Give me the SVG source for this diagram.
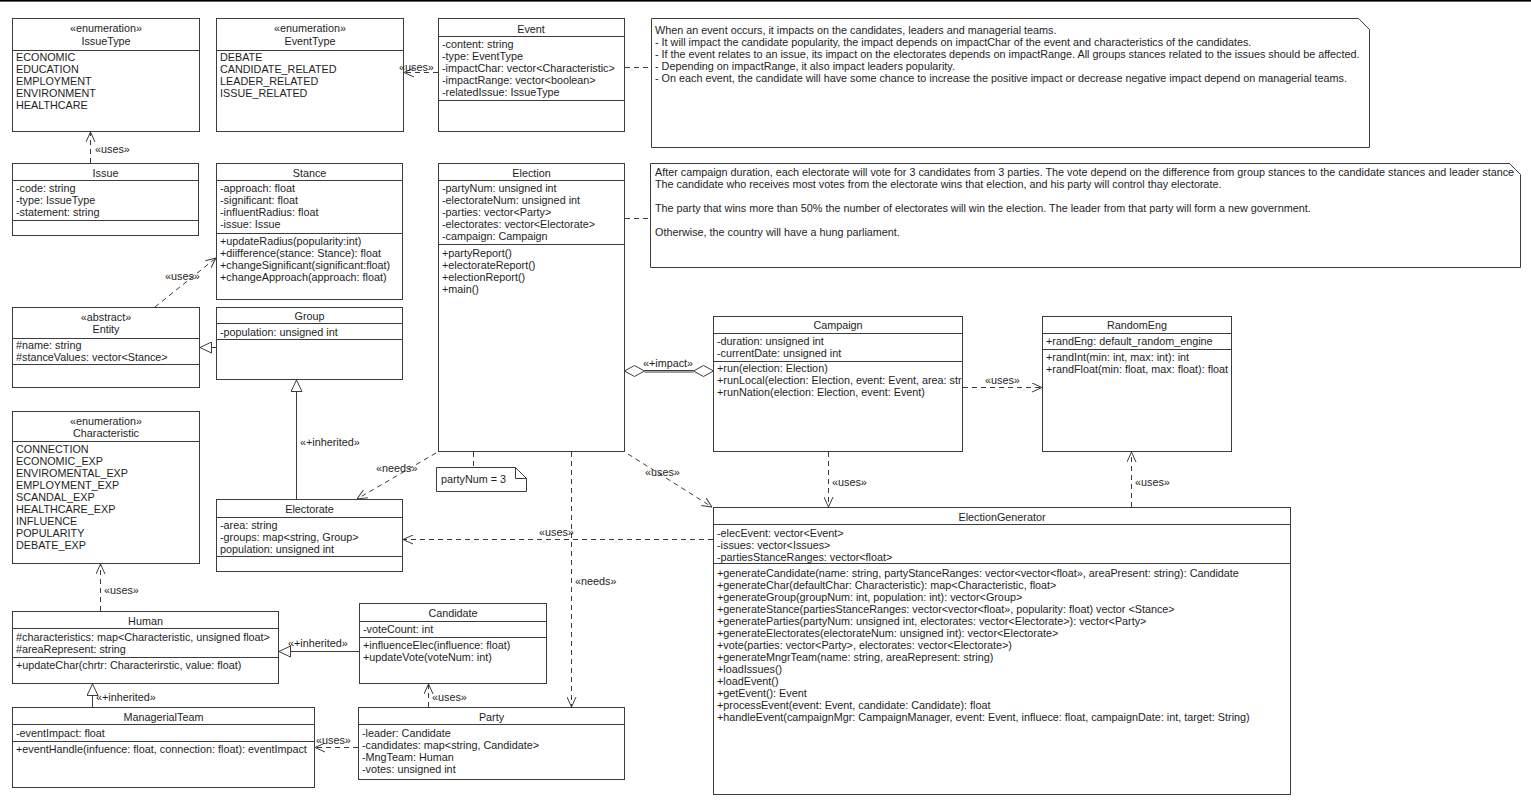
<svg xmlns="http://www.w3.org/2000/svg" width="1531" height="806" viewBox="0 0 1531 806">
<style>
.b{fill:#fff;stroke:#3c3c3c;stroke-width:1}
.s{stroke:#3c3c3c;stroke-width:1;fill:none}
.d{stroke:#3c3c3c;stroke-width:1;fill:none;stroke-dasharray:5,4}
text{font-family:"Liberation Sans",Arial,sans-serif;font-size:10.8px;fill:#1e1e1e}
.c{text-anchor:middle}
</style>
<defs>
<marker id="open" viewBox="0 0 10 10" refX="10" refY="5" markerWidth="10" markerHeight="10" markerUnits="userSpaceOnUse" orient="auto"><path d="M0,0.5 L10,5 L0,9.5" fill="none" stroke="#3c3c3c" stroke-width="1"/></marker>
<marker id="tri" viewBox="0 0 12 12" refX="12" refY="6" markerWidth="12" markerHeight="12" markerUnits="userSpaceOnUse" orient="auto"><path d="M0.5,0.5 L12,6 L0.5,11.5 Z" fill="#fff" stroke="#3c3c3c" stroke-width="1"/></marker>
</defs>
<rect width="1531" height="806" fill="#fff"/>
<rect x="0" y="0" width="1531" height="1.6" fill="#000"/>

<g id="IssueType">
<rect class="b" x="12.5" y="18.5" width="187" height="113"/>
<line class="s" x1="12.5" y1="50.5" x2="199.5" y2="50.5"/>
<text class="c" x="106" y="32">«enumeration»</text>
<text class="c" x="106" y="45">IssueType</text>
<text x="16" y="61">ECONOMIC</text>
<text x="16" y="73">EDUCATION</text>
<text x="16" y="85">EMPLOYMENT</text>
<text x="16" y="97">ENVIRONMENT</text>
<text x="16" y="109">HEALTHCARE</text>
</g>

<g id="EventType">
<rect class="b" x="216.5" y="18.5" width="187" height="113"/>
<line class="s" x1="216.5" y1="50.5" x2="403.5" y2="50.5"/>
<text class="c" x="310" y="32">«enumeration»</text>
<text class="c" x="310" y="45">EventType</text>
<text x="220" y="61">DEBATE</text>
<text x="220" y="73">CANDIDATE_RELATED</text>
<text x="220" y="85">LEADER_RELATED</text>
<text x="220" y="97">ISSUE_RELATED</text>
</g>

<g id="Event">
<rect class="b" x="438.5" y="18.5" width="186" height="113"/>
<line class="s" x1="438.5" y1="36.5" x2="624.5" y2="36.5"/>
<line class="s" x1="438.5" y1="100.5" x2="624.5" y2="100.5"/>
<text class="c" x="531" y="33">Event</text>
<text x="442" y="48">-content: string</text>
<text x="442" y="60">-type: EventType</text>
<text x="442" y="72">-impactChar: vector&lt;Characteristic&gt;</text>
<text x="442" y="84">-impactRange: vector&lt;boolean&gt;</text>
<text x="442" y="96">-relatedIssue: IssueType</text>
</g>

<g id="EventNote">
<polygon class="b" points="651.5,18.5 1358.5,18.5 1369.5,29.5 1369.5,147.5 651.5,147.5"/>
<text x="655" y="34">When an event occurs, it impacts on the candidates, leaders and managerial teams.</text>
<text x="655" y="46">- It will impact the candidate popularity, the impact depends on impactChar of the event and characteristics of the candidates.</text>
<text x="655" y="58">- If the event relates to an issue, its impact on the electorates depends on impactRange. All groups stances related to the issues should be affected.</text>
<text x="655" y="70">- Depending on impactRange, it also impact leaders popularity.</text>
<text x="655" y="82">- On each event, the candidate will have some chance to increase the positive impact or decrease negative impact depend on managerial teams.</text>
</g>

<g id="Issue">
<rect class="b" x="12.5" y="163.5" width="186" height="72"/>
<line class="s" x1="12.5" y1="180.5" x2="198.5" y2="180.5"/>
<line class="s" x1="12.5" y1="220.5" x2="198.5" y2="220.5"/>
<text class="c" x="105.5" y="177">Issue</text>
<text x="16" y="192">-code: string</text>
<text x="16" y="204">-type: IssueType</text>
<text x="16" y="216">-statement: string</text>
</g>

<g id="Stance">
<rect class="b" x="216.5" y="163.5" width="186" height="136"/>
<line class="s" x1="216.5" y1="180.5" x2="402.5" y2="180.5"/>
<line class="s" x1="216.5" y1="233.5" x2="402.5" y2="233.5"/>
<text class="c" x="309.5" y="177">Stance</text>
<text x="220" y="192">-approach: float</text>
<text x="220" y="204">-significant: float</text>
<text x="220" y="216">-influentRadius: float</text>
<text x="220" y="228">-issue: Issue</text>
<text x="220" y="245">+updateRadius(popularity:int)</text>
<text x="220" y="257">+diifference(stance: Stance): float</text>
<text x="220" y="269">+changeSignificant(significant:float)</text>
<text x="220" y="281">+changeApproach(approach: float)</text>
</g>

<g id="Election">
<rect class="b" x="438.5" y="163.5" width="186" height="288"/>
<line class="s" x1="438.5" y1="180.5" x2="624.5" y2="180.5"/>
<line class="s" x1="438.5" y1="244.5" x2="624.5" y2="244.5"/>
<text class="c" x="531.5" y="177">Election</text>
<text x="442" y="192">-partyNum: unsigned int</text>
<text x="442" y="204">-electorateNum: unsigned int</text>
<text x="442" y="216">-parties: vector&lt;Party&gt;</text>
<text x="442" y="228">-electorates: vector&lt;Electorate&gt;</text>
<text x="442" y="240">-campaign: Campaign</text>
<text x="442" y="257">+partyReport()</text>
<text x="442" y="269">+electorateReport()</text>
<text x="442" y="281">+electionReport()</text>
<text x="442" y="293">+main()</text>
</g>

<g id="ElectionNote">
<polygon class="b" points="650.5,163.5 1509.5,163.5 1520.5,174.5 1520.5,267.5 650.5,267.5"/>
<text x="655" y="176">After campaign duration, each electorate will vote for 3 candidates from 3 parties. The vote depend on the difference from group stances to the candidate stances and leader stance</text>
<text x="655" y="188">The candidate who receives most votes from the electorate wins that election, and his party will control thay electorate.</text>
<text x="655" y="212">The party that wins more than 50% the number of electorates will win the election. The leader from that party will form a new government.</text>
<text x="655" y="236">Otherwise, the country will have a hung parliament.</text>
</g>

<g id="Entity">
<rect class="b" x="12.5" y="307.5" width="187" height="80"/>
<line class="s" x1="12.5" y1="338.5" x2="199.5" y2="338.5"/>
<line class="s" x1="12.5" y1="364.5" x2="199.5" y2="364.5"/>
<text class="c" x="106" y="321">«abstract»</text>
<text class="c" x="106" y="333">Entity</text>
<text x="16" y="349">#name: string</text>
<text x="16" y="361">#stanceValues: vector&lt;Stance&gt;</text>
</g>

<g id="Group">
<rect class="b" x="216.5" y="307.5" width="186" height="72"/>
<line class="s" x1="216.5" y1="323.5" x2="402.5" y2="323.5"/>
<line class="s" x1="216.5" y1="339.5" x2="402.5" y2="339.5"/>
<text class="c" x="309.5" y="320">Group</text>
<text x="220" y="336">-population: unsigned int</text>
</g>

<g id="Campaign">
<rect class="b" x="713.5" y="316.5" width="249" height="135"/>
<line class="s" x1="713.5" y1="333.5" x2="962.5" y2="333.5"/>
<line class="s" x1="713.5" y1="361.5" x2="962.5" y2="361.5"/>
<text class="c" x="838" y="329">Campaign</text>
<text x="717" y="345">-duration: unsigned int</text>
<text x="717" y="357">-currentDate: unsigned int</text>
<text x="717" y="372">+run(election: Election)</text>
<text x="717" y="384">+runLocal(election: Election, event: Event, area: str</text>
<text x="717" y="396">+runNation(election: Election, event: Event)</text>
</g>

<g id="RandomEng">
<rect class="b" x="1042.5" y="316.5" width="189" height="135"/>
<line class="s" x1="1042.5" y1="333.5" x2="1231.5" y2="333.5"/>
<line class="s" x1="1042.5" y1="349.5" x2="1231.5" y2="349.5"/>
<text class="c" x="1137" y="329">RandomEng</text>
<text x="1046" y="345">+randEng: default_random_engine</text>
<text x="1046" y="361">+randInt(min: int, max: int): int</text>
<text x="1046" y="373">+randFloat(min: float, max: float): float</text>
</g>

<g id="Characteristic">
<rect class="b" x="12.5" y="411.5" width="187" height="152"/>
<line class="s" x1="12.5" y1="441.5" x2="199.5" y2="441.5"/>
<text class="c" x="106" y="425">«enumeration»</text>
<text class="c" x="106" y="437">Characteristic</text>
<text x="16" y="453">CONNECTION</text>
<text x="16" y="465">ECONOMIC_EXP</text>
<text x="16" y="477">ENVIROMENTAL_EXP</text>
<text x="16" y="489">EMPLOYMENT_EXP</text>
<text x="16" y="501">SCANDAL_EXP</text>
<text x="16" y="513">HEALTHCARE_EXP</text>
<text x="16" y="525">INFLUENCE</text>
<text x="16" y="537">POPULARITY</text>
<text x="16" y="549">DEBATE_EXP</text>
</g>

<g id="Electorate">
<rect class="b" x="216.5" y="499.5" width="186" height="72"/>
<line class="s" x1="216.5" y1="517.5" x2="402.5" y2="517.5"/>
<line class="s" x1="216.5" y1="556.5" x2="402.5" y2="556.5"/>
<text class="c" x="309.5" y="513">Electorate</text>
<text x="220" y="529">-area: string</text>
<text x="220" y="541">-groups: map&lt;string, Group&gt;</text>
<text x="220" y="553">population: unsigned int</text>
</g>

<g id="PartyNumNote">
<polygon class="b" points="436.5,467.5 515.5,467.5 526.5,478.5 526.5,491.5 436.5,491.5"/>
<polyline class="s" points="515.5,467.5 515.5,478.5 526.5,478.5"/>
<text x="441" y="483">partyNum = 3</text>
</g>

<g id="ElectionGenerator">
<rect class="b" x="713.5" y="507.5" width="577" height="287"/>
<line class="s" x1="713.5" y1="524.5" x2="1290.5" y2="524.5"/>
<line class="s" x1="713.5" y1="563.5" x2="1290.5" y2="563.5"/>
<text class="c" x="1002" y="521">ElectionGenerator</text>
<text x="717" y="537">-elecEvent: vector&lt;Event&gt;</text>
<text x="717" y="549">-issues: vector&lt;Issues&gt;</text>
<text x="717" y="561">-partiesStanceRanges: vector&lt;float&gt;</text>
<text x="717" y="577">+generateCandidate(name: string, partyStanceRanges: vector&lt;vector&lt;float», areaPresent: string): Candidate</text>
<text x="717" y="589">+generateChar(defaultChar: Characteristic): map&lt;Characteristic, float&gt;</text>
<text x="717" y="601">+generateGroup(groupNum: int, population: int): vector&lt;Group&gt;</text>
<text x="717" y="613">+generateStance(partiesStanceRanges: vector&lt;vector&lt;float», popularity: float) vector &lt;Stance&gt;</text>
<text x="717" y="625">+generateParties(partyNum: unsigned int, electorates: vector&lt;Electorate&gt;): vector&lt;Party&gt;</text>
<text x="717" y="637">+generateElectorates(electorateNum: unsigned int): vector&lt;Electorate&gt;</text>
<text x="717" y="649">+vote(parties: vector&lt;Party&gt;, electorates: vector&lt;Electorate&gt;)</text>
<text x="717" y="661">+generateMngrTeam(name: string, areaRepresent: string)</text>
<text x="717" y="673">+loadIssues()</text>
<text x="717" y="685">+loadEvent()</text>
<text x="717" y="697">+getEvent(): Event</text>
<text x="717" y="709">+processEvent(event: Event, candidate: Candidate): float</text>
<text x="717" y="721">+handleEvent(campaignMgr: CampaignManager, event: Event, influece: float, campaignDate: int, target: String)</text>
</g>

<g id="Human">
<rect class="b" x="12.5" y="611.5" width="266" height="72"/>
<line class="s" x1="12.5" y1="628.5" x2="278.5" y2="628.5"/>
<line class="s" x1="12.5" y1="657.5" x2="278.5" y2="657.5"/>
<text class="c" x="145.5" y="625">Human</text>
<text x="16" y="641">#characteristics: map&lt;Characteristic, unsigned float&gt;</text>
<text x="16" y="653">#areaRepresent: string</text>
<text x="16" y="669">+updateChar(chrtr: Characterirstic, value: float)</text>
</g>

<g id="Candidate">
<rect class="b" x="359.5" y="603.5" width="187" height="80"/>
<line class="s" x1="359.5" y1="621.5" x2="546.5" y2="621.5"/>
<line class="s" x1="359.5" y1="637.5" x2="546.5" y2="637.5"/>
<text class="c" x="453" y="617">Candidate</text>
<text x="363" y="633">-voteCount: int</text>
<text x="363" y="649">+influenceElec(influence: float)</text>
<text x="363" y="661">+updateVote(voteNum: int)</text>
</g>

<g id="ManagerialTeam">
<rect class="b" x="12.5" y="707.5" width="302" height="80"/>
<line class="s" x1="12.5" y1="724.5" x2="314.5" y2="724.5"/>
<line class="s" x1="12.5" y1="741.5" x2="314.5" y2="741.5"/>
<text class="c" x="163.5" y="721">ManagerialTeam</text>
<text x="16" y="737">-eventImpact: float</text>
<text x="16" y="753">+eventHandle(infuence: float, connection: float): eventImpact</text>
</g>

<g id="Party">
<rect class="b" x="358.5" y="707.5" width="266" height="72"/>
<line class="s" x1="358.5" y1="724.5" x2="624.5" y2="724.5"/>
<text class="c" x="491.5" y="721">Party</text>
<text x="362" y="737">-leader: Candidate</text>
<text x="362" y="749">-candidates: map&lt;string, Candidate&gt;</text>
<text x="362" y="761">-MngTeam: Human</text>
<text x="362" y="773">-votes: unsigned int</text>
</g>

<g id="connectors">
<line class="d" x1="90.5" y1="163" x2="90.5" y2="132" marker-end="url(#open)"/>
<text x="95" y="153">«uses»</text>
<line class="d" x1="438" y1="72.5" x2="404" y2="72.5" marker-end="url(#open)"/>
<text x="399" y="71">«uses»</text>
<line class="d" x1="625" y1="67.5" x2="651" y2="67.5"/>
<line class="d" x1="625" y1="218.5" x2="650" y2="218.5"/>
<line class="d" x1="155" y1="307" x2="216" y2="258" marker-end="url(#open)"/>
<text x="165" y="280">«uses»</text>
<line class="s" x1="216" y1="347.5" x2="200" y2="347.5" marker-end="url(#tri)"/>
<line class="s" x1="296.5" y1="499" x2="296.5" y2="380" marker-end="url(#tri)"/>
<text x="300" y="446">«+inherited»</text>
<line class="d" x1="436" y1="453" x2="357" y2="499" marker-end="url(#open)"/>
<text x="376" y="472">«needs»</text>
<line class="d" x1="473.5" y1="452" x2="473.5" y2="467"/>
<line class="d" x1="571.5" y1="452" x2="571.5" y2="707" marker-end="url(#open)"/>
<text x="575" y="585">«needs»</text>
<line class="d" x1="628" y1="454" x2="712" y2="507" marker-end="url(#open)"/>
<text x="645" y="476">«uses»</text>
<line class="d" x1="713" y1="539.5" x2="403" y2="539.5" marker-end="url(#open)"/>
<text x="539" y="536">«uses»</text>
<polygon class="b" points="624.5,371 634.5,365.5 644.5,371 634.5,376.5"/>
<polygon class="b" points="693.5,371 703.5,365.5 713.5,371 703.5,376.5"/>
<line class="s" x1="644.5" y1="370.5" x2="693.5" y2="370.5"/>
<line class="s" x1="644.5" y1="372" x2="693.5" y2="372"/>
<text x="643" y="367">«+impact»</text>
<line class="d" x1="963" y1="387.5" x2="1042" y2="387.5" marker-end="url(#open)"/>
<text x="985" y="384">«uses»</text>
<line class="d" x1="828.5" y1="452" x2="828.5" y2="507" marker-end="url(#open)"/>
<text x="832" y="486">«uses»</text>
<line class="d" x1="1131.5" y1="507" x2="1131.5" y2="452" marker-end="url(#open)"/>
<text x="1135" y="486">«uses»</text>
<line class="d" x1="100.5" y1="611" x2="100.5" y2="564" marker-end="url(#open)"/>
<text x="104" y="594">«uses»</text>
<line class="s" x1="359" y1="651.5" x2="279" y2="651.5" marker-end="url(#tri)"/>
<text x="288" y="647">«+inherited»</text>
<line class="s" x1="92.5" y1="707" x2="92.5" y2="684" marker-end="url(#tri)"/>
<text x="96" y="701">«+inherited»</text>
<line class="d" x1="428.5" y1="707" x2="428.5" y2="684" marker-end="url(#open)"/>
<text x="432" y="701">«uses»</text>
<line class="d" x1="358" y1="747.5" x2="315" y2="747.5" marker-end="url(#open)"/>
<text x="316" y="744">«uses»</text>
</g>
</svg>
